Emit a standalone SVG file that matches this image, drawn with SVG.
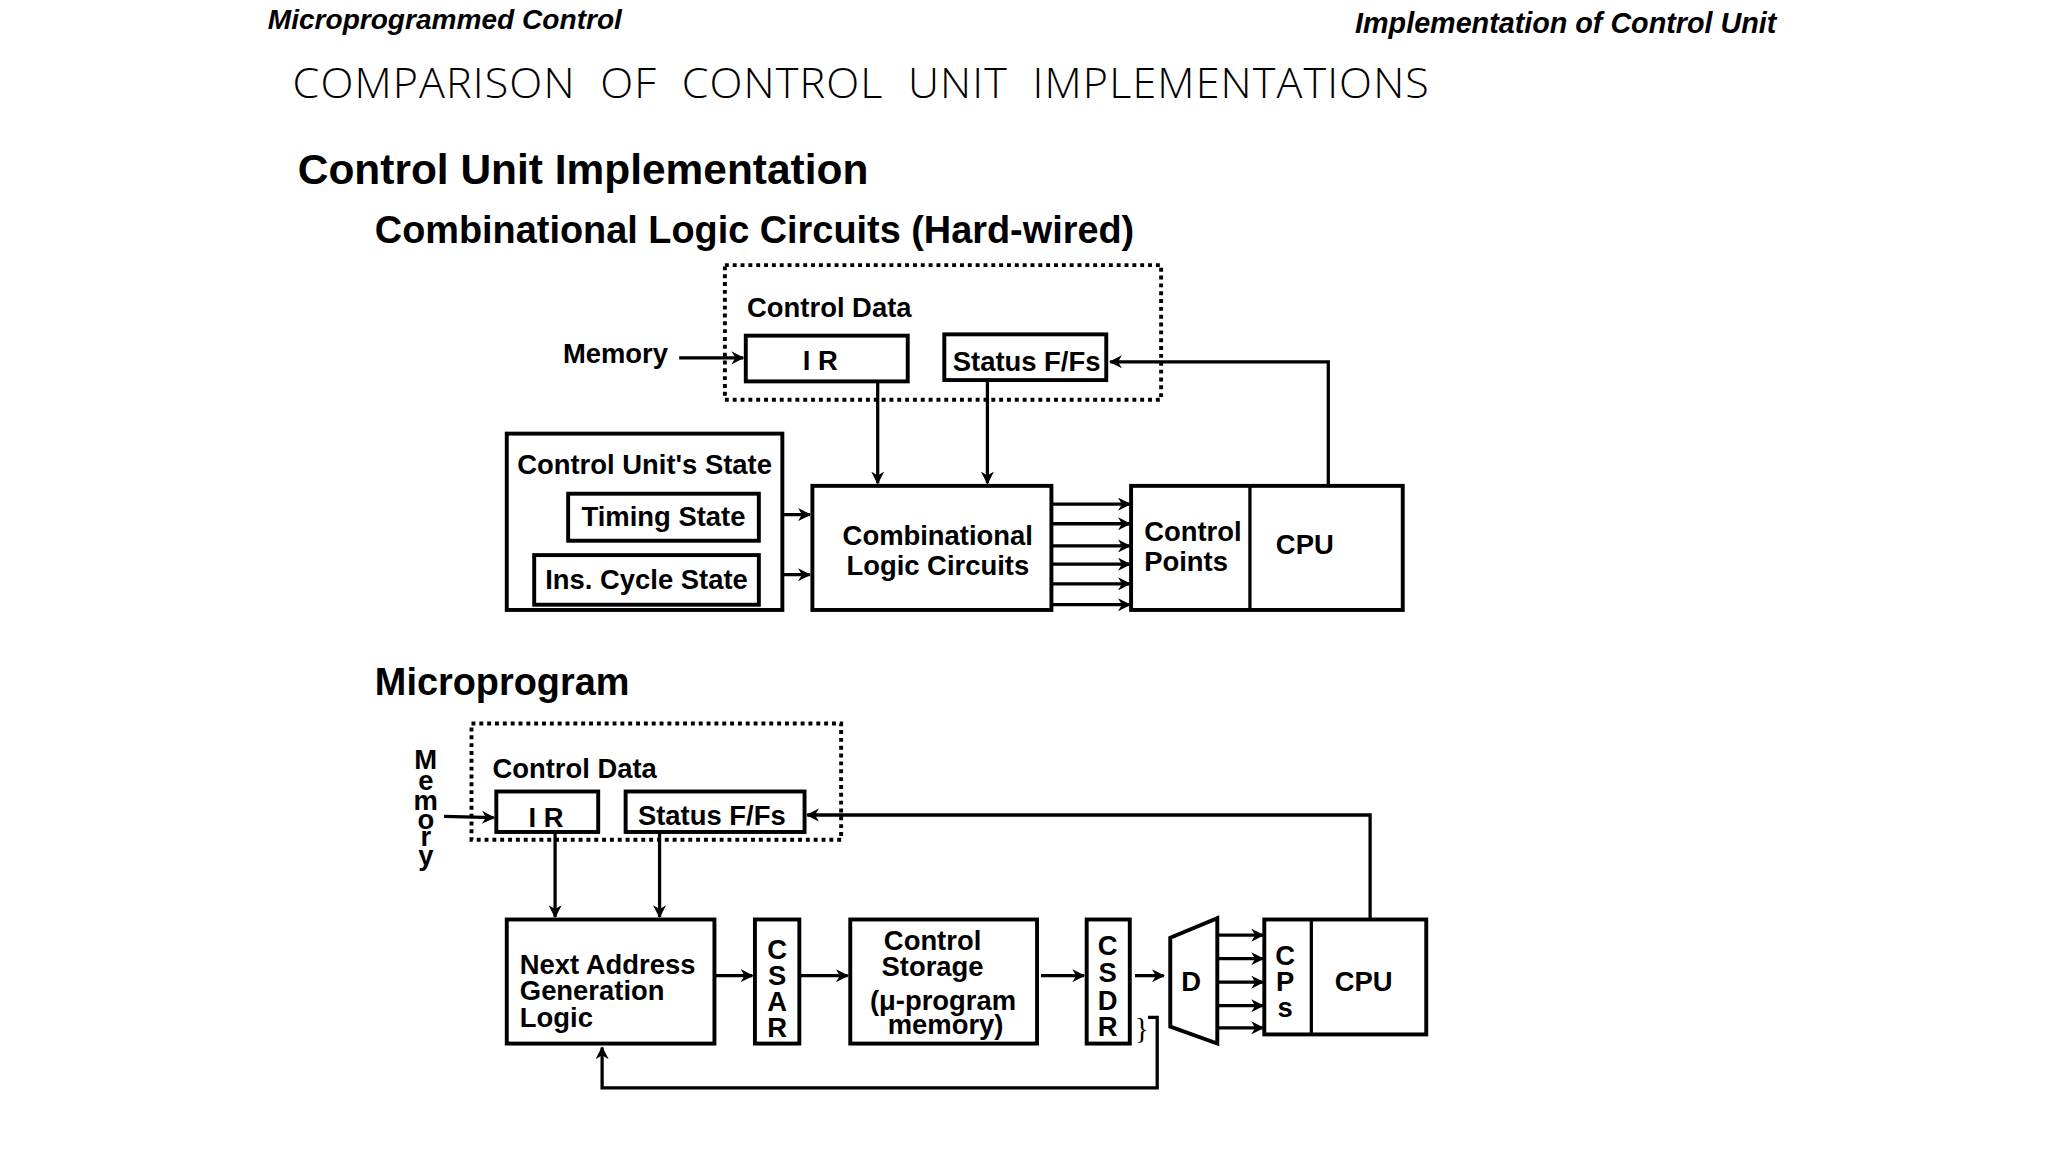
<svg xmlns="http://www.w3.org/2000/svg" width="2048" height="1152" viewBox="0 0 2048 1152">
<defs>
<marker id="ah" viewBox="0 0 10 10" refX="9" refY="5" markerWidth="4" markerHeight="4" orient="auto-start-reverse" markerUnits="strokeWidth"><path d="M0,0 L10,5 L0,10 L3,5 z" fill="#000"/></marker>
<style>
.b{fill:#fff;stroke:#000;stroke-width:3}
.d{fill:none;stroke:#000;stroke-width:3;stroke-dasharray:3 3}
.l{fill:none;stroke:#000;stroke-width:2.5}
.t{font-family:"Liberation Sans",Arial,sans-serif;font-weight:bold;font-size:21px;fill:#000}
.c{text-anchor:middle}
.h{font-family:"Liberation Sans",Arial,sans-serif;font-weight:bold;fill:#000}
</style>
</defs>
<rect width="2048" height="1152" fill="#fff"/>
<g transform="scale(1.3061)">
<g id="headers">
<text class="h" x="205" y="22" font-size="21.5" font-style="italic">Microprogrammed Control</text>
<text class="h" x="1360" y="25" font-size="22" font-style="italic" text-anchor="end">Implementation of Control Unit</text>
<text x="224" y="75" font-family="'Open Sans',sans-serif" font-weight="300" font-size="33" fill="#000" textLength="870" xml:space="preserve">COMPARISON  OF  CONTROL  UNIT  IMPLEMENTATIONS</text>
<text class="h" x="228" y="141" font-size="32.5">Control Unit Implementation</text>
<text class="h" x="287" y="186" font-size="29">Combinational Logic Circuits (Hard-wired)</text>
<text class="h" x="287" y="532" font-size="29">Microprogram</text>
</g>
<g id="connectors">
<line class="l" x1="520" y1="274" x2="569" y2="274" marker-end="url(#ah)"/>
<polyline class="l" points="1017,372 1017,277 850,277" marker-end="url(#ah)"/>
<line class="l" x1="672" y1="292" x2="672" y2="370" marker-end="url(#ah)"/>
<line class="l" x1="756" y1="291" x2="756" y2="370" marker-end="url(#ah)"/>
<line class="l" x1="581" y1="394" x2="620" y2="394" marker-end="url(#ah)"/>
<line class="l" x1="581" y1="440" x2="620" y2="440" marker-end="url(#ah)"/>
<line class="l" x1="806" y1="386" x2="865" y2="386" marker-end="url(#ah)"/>
<line class="l" x1="806" y1="401" x2="865" y2="401" marker-end="url(#ah)"/>
<line class="l" x1="806" y1="418" x2="865" y2="418" marker-end="url(#ah)"/>
<line class="l" x1="806" y1="432" x2="865" y2="432" marker-end="url(#ah)"/>
<line class="l" x1="806" y1="447" x2="865" y2="447" marker-end="url(#ah)"/>
<line class="l" x1="806" y1="463" x2="865" y2="463" marker-end="url(#ah)"/>
<line class="l" x1="340" y1="625" x2="378" y2="626" marker-end="url(#ah)"/>
<polyline class="l" points="1049,704 1049,624 618,624" marker-end="url(#ah)"/>
<line class="l" x1="425" y1="637" x2="425" y2="702" marker-end="url(#ah)"/>
<line class="l" x1="505" y1="637" x2="505" y2="702" marker-end="url(#ah)"/>
<line class="l" x1="547" y1="747" x2="576" y2="747" marker-end="url(#ah)"/>
<line class="l" x1="612" y1="747" x2="649" y2="747" marker-end="url(#ah)"/>
<line class="l" x1="797" y1="747" x2="830" y2="747" marker-end="url(#ah)"/>
<line class="l" x1="869" y1="747" x2="891" y2="747" marker-end="url(#ah)"/>
<line class="l" x1="932" y1="716" x2="967" y2="716" marker-end="url(#ah)"/>
<line class="l" x1="932" y1="734" x2="967" y2="734" marker-end="url(#ah)"/>
<line class="l" x1="932" y1="752" x2="967" y2="752" marker-end="url(#ah)"/>
<line class="l" x1="932" y1="770" x2="967" y2="770" marker-end="url(#ah)"/>
<line class="l" x1="932" y1="787" x2="967" y2="787" marker-end="url(#ah)"/>
<polyline class="l" points="879,779 886,779 886,833 461,833 461,802" marker-end="url(#ah)"/>
</g>
<g id="hw-control-data">
<rect class="d" x="555" y="203" width="334" height="103"/>
<text class="t" x="572" y="243">Control Data</text>
</g>
<g id="hw-memory"><text class="t" x="431" y="278">Memory</text></g>
<g id="hw-ir"><rect class="b" x="571" y="257" width="124" height="35"/><text class="t c" x="628" y="283">I R</text></g>
<g id="hw-status"><rect class="b" x="723" y="256" width="124" height="35"/><text class="t c" x="786" y="284">Status F/Fs</text></g>
<g id="hw-cu-state">
<rect class="b" x="388" y="332" width="211" height="135"/>
<text class="t" x="396" y="363">Control Unit's State</text>
</g>
<g id="hw-timing"><rect class="b" x="435" y="378" width="146" height="36"/><text class="t c" x="508" y="403">Timing State</text></g>
<g id="hw-ins"><rect class="b" x="409" y="425" width="172" height="38"/><text class="t c" x="495" y="451">Ins. Cycle State</text></g>
<g id="hw-comb"><rect class="b" x="622" y="372" width="183" height="95"/><text class="t c" x="718" y="417">Combinational</text><text class="t c" x="718" y="440">Logic Circuits</text></g>
<g id="hw-cpu"><rect class="b" x="866" y="372" width="208" height="95"/><line class="l" x1="957" y1="372" x2="957" y2="467" stroke-width="3"/>
<text class="t" x="876" y="414">Control</text><text class="t" x="876" y="437">Points</text><text class="t c" x="999" y="424">CPU</text></g>
<g id="mp-control-data"><rect class="d" x="361" y="554" width="283" height="89"/><text class="t" x="377" y="596">Control Data</text></g>
<g id="mp-memory">
<text class="t c" x="326" y="589" font-size="17">M</text><text class="t c" x="326" y="605" font-size="17">e</text><text class="t c" x="326" y="620" font-size="17">m</text><text class="t c" x="326" y="635" font-size="17">o</text><text class="t c" x="326" y="648" font-size="17">r</text><text class="t c" x="326" y="662" font-size="17">y</text>
</g>
<g id="mp-ir"><rect class="b" x="380" y="606" width="78" height="31"/><text class="t c" x="418" y="633">I R</text></g>
<g id="mp-status"><rect class="b" x="479" y="606" width="137" height="31"/><text class="t c" x="545" y="632">Status F/Fs</text></g>
<g id="mp-next"><rect class="b" x="388" y="704" width="159" height="95"/><text class="t" x="398" y="746">Next Address</text><text class="t" x="398" y="766">Generation</text><text class="t" x="398" y="786">Logic</text></g>
<g id="mp-csar"><rect class="b" x="578" y="704" width="34" height="95"/><text class="t c" x="595" y="734">C</text><text class="t c" x="595" y="754">S</text><text class="t c" x="595" y="774">A</text><text class="t c" x="595" y="794">R</text></g>
<g id="mp-cs"><rect class="b" x="651" y="704" width="143" height="95"/><text class="t c" x="714" y="727">Control</text><text class="t c" x="714" y="747">Storage</text><text class="t c" x="722" y="773">(μ-program</text><text class="t c" x="724" y="792">memory)</text></g>
<g id="mp-csdr"><rect class="b" x="832" y="704" width="33" height="95"/><text class="t c" x="848" y="731">C</text><text class="t c" x="848" y="752">S</text><text class="t c" x="848" y="773">D</text><text class="t c" x="848" y="793">R</text>
<text x="869" y="795" font-family="'Liberation Serif',serif" font-size="22" fill="#000">}</text></g>
<g id="mp-d"><polygon class="b" points="896,718 932,703 932,799 896,786"/><text class="t c" x="912" y="759">D</text></g>
<g id="mp-cpu"><rect class="b" x="968" y="704" width="124" height="88"/><line class="l" x1="1004" y1="704" x2="1004" y2="792" stroke-width="3"/>
<text class="t c" x="984" y="739">C</text><text class="t c" x="984" y="759">P</text><text class="t c" x="984" y="779">s</text><text class="t c" x="1044" y="759">CPU</text></g>
</g>
</svg>
